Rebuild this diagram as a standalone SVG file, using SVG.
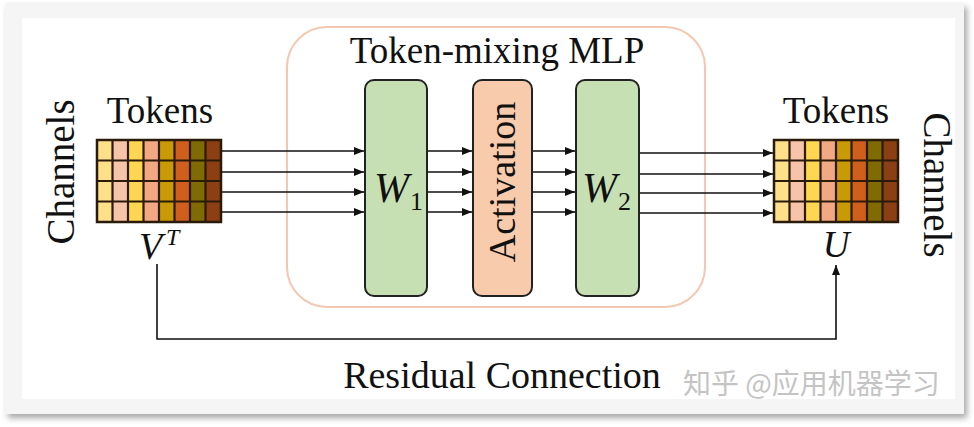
<svg xmlns="http://www.w3.org/2000/svg" width="974" height="427" viewBox="0 0 974 427">
<defs>
<marker id="ah" viewBox="0 0 10 8" refX="10" refY="4" markerWidth="10" markerHeight="8" markerUnits="userSpaceOnUse" orient="auto">
<path d="M0,0 L10,4 L0,8 Z" fill="#111"/>
</marker>
<filter id="sh" x="-5%" y="-5%" width="110%" height="115%">
<feDropShadow dx="3" dy="4" stdDeviation="3" flood-color="#000" flood-opacity="0.35"/>
</filter>
<g id="grid">
<rect x="0" y="0" width="15.5" height="82" fill="#FFE08A"/>
<rect x="15.5" y="0" width="15.5" height="82" fill="#F7C4AA"/>
<rect x="31" y="0" width="15.5" height="82" fill="#FFD652"/>
<rect x="46.5" y="0" width="15.5" height="82" fill="#F2A882"/>
<rect x="62" y="0" width="15.5" height="82" fill="#C99A05"/>
<rect x="77.5" y="0" width="15.5" height="82" fill="#D05E1C"/>
<rect x="93" y="0" width="15.5" height="82" fill="#806A02"/>
<rect x="108.5" y="0" width="15.5" height="82" fill="#8C3F12"/>
<path d="M15.5,0V82M31,0V82M46.5,0V82M62,0V82M77.5,0V82M93,0V82M108.5,0V82M0,20.5H124M0,41H124M0,61.5H124" stroke="#2a1a0a" stroke-width="2.2" fill="none"/>
<rect x="0" y="0" width="124" height="82" fill="none" stroke="#2a1a0a" stroke-width="2.5"/>
</g>
</defs>
<style>
.t{font-family:"Liberation Serif","Times New Roman",serif;fill:#111}
.m{font-family:"Liberation Serif","Times New Roman",serif;font-style:italic;fill:#111}
.c{stroke:#111;stroke-width:1.6;fill:none}
.blk{stroke:#222;stroke-width:2;rx:9}
</style>
<rect x="0" y="0" width="974" height="427" fill="#ffffff"/>
<rect x="5" y="3" width="959" height="411" fill="#f5f5f5" filter="url(#sh)"/>
<rect x="22" y="18" width="933" height="381" fill="#ffffff"/>

<g id="mlp-frame">
<rect x="287" y="27" width="418" height="280" rx="40" fill="none" stroke="#F4C8B0" stroke-width="2"/>
<text class="t" x="497" y="63" font-size="37" text-anchor="middle">Token-mixing MLP</text>
</g>

<g id="input">
<use href="#grid" x="97" y="140"/>
<text class="t" x="160" y="123" font-size="37" text-anchor="middle">Tokens</text>
<text class="t" font-size="39" text-anchor="middle" transform="translate(74,172) rotate(-90)">Channels</text>
<text class="m" x="139" y="259" font-size="38">V</text>
<text class="m" x="166" y="245" font-size="24">T</text>
</g>

<g id="output">
<use href="#grid" x="774" y="140"/>
<text class="t" x="836" y="123" font-size="37" text-anchor="middle">Tokens</text>
<text class="t" font-size="39" text-anchor="middle" transform="translate(924,185) rotate(90)">Channels</text>
<text class="m" x="836" y="257" font-size="37" text-anchor="middle">U</text>
</g>

<g id="w1">
<rect class="blk" x="365" y="80" width="62" height="216" fill="#C6E0B4"/>
<text class="m" x="374" y="202" font-size="42">W</text>
<text class="t" x="410" y="210" font-size="26">1</text>
</g>

<g id="activation">
<rect class="blk" x="473" y="80" width="59" height="216" fill="#F8CBAD"/>
<text class="t" font-size="38" text-anchor="middle" transform="translate(515,182) rotate(-90)">Activation</text>
</g>

<g id="w2">
<rect class="blk" x="576" y="80" width="63" height="216" fill="#C6E0B4"/>
<text class="m" x="582" y="202" font-size="42">W</text>
<text class="t" x="618" y="210" font-size="26">2</text>
</g>

<g id="connectors">
<path class="c" marker-end="url(#ah)" d="M222,151H364"/>
<path class="c" marker-end="url(#ah)" d="M222,172H364"/>
<path class="c" marker-end="url(#ah)" d="M222,192H364"/>
<path class="c" marker-end="url(#ah)" d="M222,212H364"/>
<path class="c" marker-end="url(#ah)" d="M428,151H472"/>
<path class="c" marker-end="url(#ah)" d="M428,172H472"/>
<path class="c" marker-end="url(#ah)" d="M428,192H472"/>
<path class="c" marker-end="url(#ah)" d="M428,212H472"/>
<path class="c" marker-end="url(#ah)" d="M533,151H575"/>
<path class="c" marker-end="url(#ah)" d="M533,172H575"/>
<path class="c" marker-end="url(#ah)" d="M533,192H575"/>
<path class="c" marker-end="url(#ah)" d="M533,212H575"/>
<path class="c" marker-end="url(#ah)" d="M640,153H773"/>
<path class="c" marker-end="url(#ah)" d="M640,174H773"/>
<path class="c" marker-end="url(#ah)" d="M640,193H773"/>
<path class="c" marker-end="url(#ah)" d="M640,213H773"/>
<path class="c" marker-end="url(#ah)" d="M157,264V339H836V265"/>
</g>

<text class="t" x="502" y="388" font-size="38" text-anchor="middle">Residual Connection</text>
<text x="683" y="394" font-size="28" fill="#c4c4c4" font-family="'Noto Sans CJK SC',sans-serif">知乎 @应用机器学习</text>
</svg>
